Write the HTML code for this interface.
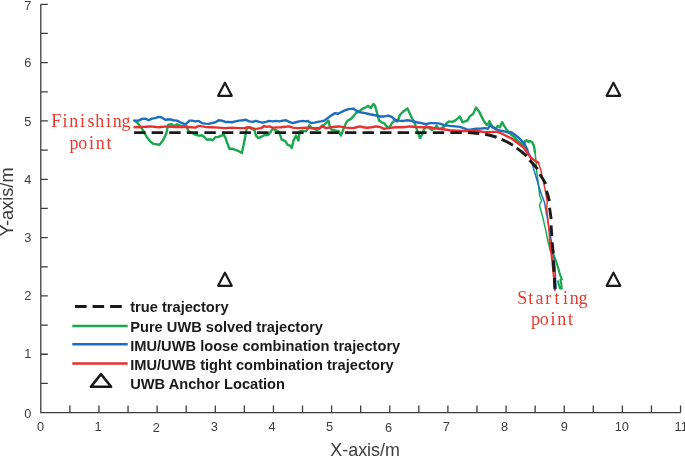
<!DOCTYPE html>
<html lang="en"><head><meta charset="utf-8"><title>Trajectory comparison</title>
<style>html,body{margin:0;padding:0;background:#fff}svg{display:block}</style></head>
<body>
<svg width="685" height="456" viewBox="0 0 685 456">
<rect width="685" height="456" fill="#fff"/>
<g transform="translate(0.3,0.6)">
<path d="M40.5,3.69 V412.0 H680.25 M69.58,412.0 v-7 M98.66,412.0 v-7 M127.74,412.0 v-7 M156.82,412.0 v-7 M185.90,412.0 v-7 M214.98,412.0 v-7 M244.06,412.0 v-7 M273.14,412.0 v-7 M302.22,412.0 v-7 M331.30,412.0 v-7 M360.38,412.0 v-7 M389.45,412.0 v-7 M418.53,412.0 v-7 M447.61,412.0 v-7 M476.69,412.0 v-7 M505.77,412.0 v-7 M534.85,412.0 v-7 M563.93,412.0 v-7 M593.01,412.0 v-7 M622.09,412.0 v-7 M651.17,412.0 v-7 M680.25,412.0 v-7 M40.5,382.83 h7 M40.5,353.67 h7 M40.5,324.50 h7 M40.5,295.34 h7 M40.5,266.18 h7 M40.5,237.01 h7 M40.5,207.84 h7 M40.5,178.68 h7 M40.5,149.51 h7 M40.5,120.35 h7 M40.5,91.19 h7 M40.5,62.02 h7 M40.5,32.86 h7 M40.5,3.69 h7" fill="none" stroke="#3c3c3c" stroke-width="1.3"/>
<g font-family="'Liberation Sans', Arial, sans-serif" font-size="12.8" fill="#3c3c3c">
<text x="40.30" y="430.2" text-anchor="middle">0</text>
<text x="97.76" y="430.2" text-anchor="middle">1</text>
<text x="156.02" y="431.6" text-anchor="middle">2</text>
<text x="213.98" y="430.2" text-anchor="middle">3</text>
<text x="271.84" y="430.9" text-anchor="middle">4</text>
<text x="329.30" y="430.2" text-anchor="middle">5</text>
<text x="388.35" y="431.4" text-anchor="middle">6</text>
<text x="446.11" y="430.2" text-anchor="middle">7</text>
<text x="504.27" y="430.2" text-anchor="middle">8</text>
<text x="564.13" y="430.2" text-anchor="middle">9</text>
<text x="621.49" y="430.9" text-anchor="middle">10</text>
<text x="680.85" y="430.9" text-anchor="middle">11</text>
<text x="31.0" y="417.70" text-anchor="end">0</text>
<text x="31.0" y="357.07" text-anchor="end">1</text>
<text x="31.0" y="298.94" text-anchor="end">2</text>
<text x="31.0" y="241.21" text-anchor="end">3</text>
<text x="31.0" y="182.98" text-anchor="end">4</text>
<text x="31.0" y="125.15" text-anchor="end">5</text>
<text x="31.0" y="66.22" text-anchor="end">6</text>
<text x="31.0" y="9.49" text-anchor="end">7</text>
</g>
<g font-family="'Liberation Sans', Arial, sans-serif" font-size="17.9" fill="#3c3c3c">
<text x="364.8" y="455.9" text-anchor="middle">X-axis/m</text>
<text transform="translate(12.6,201.4) rotate(-90)" text-anchor="middle" font-size="18.2">Y-axis/m</text>
</g>
<g fill="none" stroke="#1aa84f" stroke-linejoin="round" stroke-linecap="round"><path d="M134.17,120 L137.5,122.5 L140,125.83 L143.33,130.83 L146.67,136.67 L150,140.83 L153.33,143.33 L159.17,144.17 L162.5,140 L165.83,133.33 L168,124.17 L171.67,123.67 L173.33,125.83 L176.67,123.67 L180,125 L183.33,125.33 L185.83,125 L188,130 L190,131.67 L194.17,133.67 L198.33,135 L201.67,134.67 L203.33,135.83 L206.67,139.17 L210,138.67 L212.5,139.67 L215,136.67 L218.33,136.33 L220.83,135 L223.33,134.17 L225,136.67 L226.67,141.67 L229.17,148.33 L231.67,148 L235,149.17 L239,150.83 L241.5,152.5 L243.17,145 L244.83,136.67 L246.5,127.5 L249,126.67 L251.5,128.33 L254,129.17 L255.67,135 L258.17,137.5 L260.67,136.33 L264,134.67 L268.17,134.17 L270.67,130.83 L272.33,128.33 L274.83,129.17 L278.17,130.83 L279.83,134.17 L281.5,139.17 L284.83,140.33 L287.33,144.17 L289.83,145 L291.5,147.5 L293.17,140 L295.67,135 L298.17,140 L299.33,130.83 L302.33,130 L305.67,130.83 L307.33,128.33 L309,124.67 L311.5,127.5 L314,128.33 L316.5,129.17 L319,128.33 L321.5,125 L324,124.17 L325.67,122.5 L328.17,120 L329.83,127.5 L331.5,129.17 L335.67,130 L338.17,130.33 L340.67,135 L343.17,128.33 L345.67,122.5 L347.33,120 L350.67,118.33 L353,115.83 L355.5,112.5 L358.83,110.83 L362.17,108 L365.5,106.67 L368,105.33 L370.5,107.5 L373,103.33 L374.67,105 L376.33,110.83 L378.83,120 L381.33,121.67 L383.83,122.5 L386.33,125.83 L388.83,127.5 L392.17,121.67 L394.67,120 L397.17,120.83 L399.67,114.17 L402.17,111.67 L404.67,109.67 L407.17,108 L409.67,113.33 L412.17,118.33 L414.67,123.33 L417.17,130.83 L419.67,137.5 L422.17,133.33 L423.83,128.33 L426.33,125.83 L428.83,127.5 L431.33,129.17 L433.83,128.33 L436.33,125 L438,128.33 L441.33,127.5 L443.83,125.83 L446.33,122.5 L448.83,120.83 L452.17,121.33 L454.67,120 L457.17,118 L459.67,115.83 L462.17,121.67 L464.67,120.83 L467,120 L469.5,115.8 L472.8,113.3 L475.7,107 L478.7,110.8 L481.2,115.8 L483.2,120 L484.8,122.2 L486.5,124.4 L488.1,122.7 L489.2,120.5 L490.3,123.3 L491.9,125.5 L495.2,128.2 L497.4,125.5 L499.6,126.6 L501.8,121.6 L504,125.5 L506.2,128.8 L508.4,131.5 L511.1,134.3 L513.9,136.5 L516.1,138.7 L518.8,141.4 L521.6,143 L523.8,144.7 L524.9,140.3 L526.5,139.7 L528.2,141.4 L529.8,140.3 L532,141.9 L533.6,145.2 L534.7,151.8" stroke-width="2.4"/><path d="M534.7,151.8 L535.5,158.2 L536.4,170.8 L538.1,182.9 L539.3,195 L541.4,200.5 L539.8,202.7 L539.3,205.4 L542.5,216.9 L545.8,231.2 L547.6,241 L549.7,248.8" stroke-width="1.45"/><path d="M549.7,248.8 L553.3,254.4 L555.8,260.9 L558.3,268.8 L560.2,275.7 L561.6,278.6 L560.2,279.1 L561.2,284.5 L561.4,288.2 L559.7,287.8 L558.3,283.6 L557.8,280.6" stroke-width="2.1"/></g>
<g fill="none" stroke="#1c6dbd" stroke-linejoin="round" stroke-linecap="round"><path d="M134.17,120 L138.33,120 L141.67,118.33 L145,118 L148.33,119.67 L151.67,118 L155,117.5 L158.33,116.33 L160.83,116.67 L165,119.17 L169.17,118.67 L173.33,119.67 L176.67,120 L180,121.67 L183.33,123 L185.83,123.33 L189.17,120 L191.67,120 L195,120.83 L198.33,120.33 L201.67,122.5 L205,123 L208.33,123.33 L211.67,122.5 L215,121.67 L218.33,119.67 L221.67,120 L225,121.33 L228.33,121.33 L231.67,121.67 L235,120.83 L239,120 L242.33,119.67 L245.67,119.17 L249,120.83 L252.33,121.33 L255.67,120.33 L259,121.33 L262.33,122 L265.67,121.33 L269,120.33 L272.33,120.83 L275.67,120.33 L279,120.83 L282.33,120 L285.67,119.67 L289,121.33 L292.33,122.5 L295.67,121.67 L299,120.83 L302.33,120.33 L305.67,120.83 L307.33,120.33 L310.67,122.5 L314,122 L317.33,121.33 L320.67,120.83 L324,120 L327.33,117.5 L330.67,115 L334.83,112.5 L337.33,113.33 L340.67,111.67 L344,110 L347.33,108.67 L350.67,108.33 L353,108 L356.33,110.33 L359.67,111.67 L364.67,112.5 L369.67,113.67 L374.67,114.67 L379.67,115.83 L383.83,115.83 L388,115 L391.33,116.33 L394.67,119.17 L398.83,120 L403,120.33 L407.17,119.67 L411.33,120.33 L416.33,121.67 L421.33,122.5 L425.5,123.67 L429.67,122.5 L434.67,122.5 L439.67,123 L444.67,124.67 L449.67,125.33 L454.67,125.83 L459.67,126.33 L464.67,128 L467,129.2 L470,129 L475.5,128.2 L481,127.9 L484.8,127.5 L487.6,128.2 L489.5,124.6 L491.9,126.6 L495.2,128.2 L499.6,129.9 L504,130.8 L508.4,132.1 L510.6,131.5 L513.9,133.7 L518.3,137 L522.7,141.4 L524.9,144.7 L527.1,149.1" stroke-width="2.4"/><path d="M527.1,149.1 L529.8,155 L532.1,164.3 L535.4,175.2 L538.6,186.2 L541.4,194.5 L544.2,201.6 L545.3,208.2 L546.9,216.9 L548.6,227.9 L550.8,238.9 L551.9,245 L552.8,252 L553.8,260 L554.8,267.4 L555.3,278 L555.7,288.2" stroke-width="1.45"/></g>
<g fill="none" stroke="#e83030" stroke-linejoin="round" stroke-linecap="round"><path d="M134.17,126.67 L141.67,126.33 L150,125.83 L158.33,126.67 L166.67,125.83 L175,126.33 L183.33,126.33 L191.67,126.67 L195,127 L198.33,125.33 L205,126.33 L211.67,126.67 L218.33,127 L225,127.5 L231.67,127 L239,127.5 L244,127.5 L247.33,126.67 L250.67,127 L254,128.33 L257.33,128 L260.67,127.5 L264,125.5 L266.5,126.33 L269,125.83 L272.33,127 L280.67,126.67 L289,125.83 L292.33,127 L297.33,127.5 L305.67,127 L314,127.5 L319,127.5 L322.33,125.83 L325.67,127.5 L332.33,126.33 L339,125.83 L345.67,127 L353,127.5 L356.33,126.67 L359.67,125.83 L363,126.67 L366.33,127.17 L371.33,126.67 L376.33,125.83 L380.5,126.67 L383.83,128.33 L388,127.5 L394.67,126.67 L403,126.67 L409.67,125.83 L416.33,126.33 L423,126.67 L429.67,126.67 L436.33,128 L443,128.67 L449.67,129.67 L456.33,130 L463,130.33 L467,130.2 L470,130.4 L478.8,130.6 L484.3,131.5 L489.7,131.5 L496.3,131 L500.7,132.6 L506.2,135.4 L511.7,138.1 L516.1,141.4 L520.5,144.7 L523.8,147.4 L527.1,152.4 L530.6,157.2 L534.2,159.8 L538.1,162.1" stroke-width="2.4"/><path d="M538.1,162.1 L540.3,168.6 L542.5,178.5 L544.7,188.4 L546.3,198 L546.9,201.6 L546.4,208.2 L547.5,216.9 L548.6,227.9 L549.3,238.9" stroke-width="1.45"/><path d="M549.3,238.9 L550,245 L550.8,251 L551.9,259.7 L553,270.7 L553.7,277.3 L554.6,289.3" stroke-width="2.1"/></g>
<path d="M133.8,132 L467,132 L479.2,132.9" fill="none" stroke="#1a1a1a" stroke-width="2.9" stroke-dasharray="11.4 6.17"/>
<path d="M484.91,133.69 L490.5,134.9 L496.28,136.64 M501.35,138.79 L507,141.4 L512.63,144.65 M516.4,147.5 L521.5,151.3 L526.38,155.42 M529.26,159.54 L533.4,163.9 L537.32,168.58 M539.42,173.69 L542.6,178.4 L545.45,183.33 M546.15,190.12 L547.8,195.3 L549.12,200.48 M549.23,207.11 L550.87,218.49 M550.76,224.7 L551.54,235.5 M551.85,241.7 L553.05,253.1 M552.97,259.8 L553.73,271.2 M554.08,277.3 L554.6,288.3" fill="none" stroke="#1a1a1a" stroke-width="2.9"/>
<path d="M224.65,82.1 L231.45,95.25 L217.85,95.25 Z" fill="none" stroke="#1a1a1a" stroke-width="2.2" stroke-linejoin="round"/>
<path d="M613.15,82.1 L619.95,95.25 L606.35,95.25 Z" fill="none" stroke="#1a1a1a" stroke-width="2.2" stroke-linejoin="round"/>
<path d="M224.65,272.1 L231.45,285.25 L217.85,285.25 Z" fill="none" stroke="#1a1a1a" stroke-width="2.2" stroke-linejoin="round"/>
<path d="M613.15,272.1 L619.95,285.25 L606.35,285.25 Z" fill="none" stroke="#1a1a1a" stroke-width="2.2" stroke-linejoin="round"/>
<g transform="translate(-0.3,-0.6)">
<path d="M75.0,306.5 H121.8" fill="none" stroke="#1a1a1a" stroke-width="2.9" stroke-dasharray="11.6 5.97"/>
<path d="M72.3,326 H127.7" stroke="#1aa84f" stroke-width="2.5"/>
<path d="M72.3,344.2 H127.7" stroke="#1c6dbd" stroke-width="2.5"/>
<path d="M72.3,363.4 H127.7" stroke="#e83030" stroke-width="2.5"/>
<path d="M101,374.1 L111.1,386.7 L90.9,386.7 Z" fill="none" stroke="#1a1a1a" stroke-width="2.6" stroke-linejoin="round"/>
</g>
<g font-family="'Liberation Sans', Arial, sans-serif" font-size="14.65" font-weight="bold" fill="#1a1a1a">
<text x="129.9" y="311.8">true trajectory</text>
<text x="129.9" y="331.4">Pure UWB solved trajectory</text>
<text x="129.9" y="350.2">IMU/UWB loose combination trajectory</text>
<text x="129.9" y="369.1">IMU/UWB tight combination trajectory</text>
<text x="129.9" y="388.0">UWB Anchor Location</text>
</g>
<g font-family="'Liberation Serif', 'Noto Serif CJK SC', serif" font-size="18" fill="#e8392e" transform="translate(-0.3,-0.6)">
<text x="56.30 65.00 73.70 82.40 91.10 99.80 108.50 117.20 125.90" y="127" text-anchor="middle">Finishing</text>
<text x="73.90 82.70 91.50 100.30 109.10" y="148.9" text-anchor="middle">point</text>
<text x="522.19 530.87 539.55 548.23 556.91 565.59 574.27 582.95" y="303.5" text-anchor="middle">Starting</text>
<text x="535.60 544.30 553.00 561.70 570.40" y="324.9" text-anchor="middle">point</text>
</g>
</g>
</svg>
</body></html>
